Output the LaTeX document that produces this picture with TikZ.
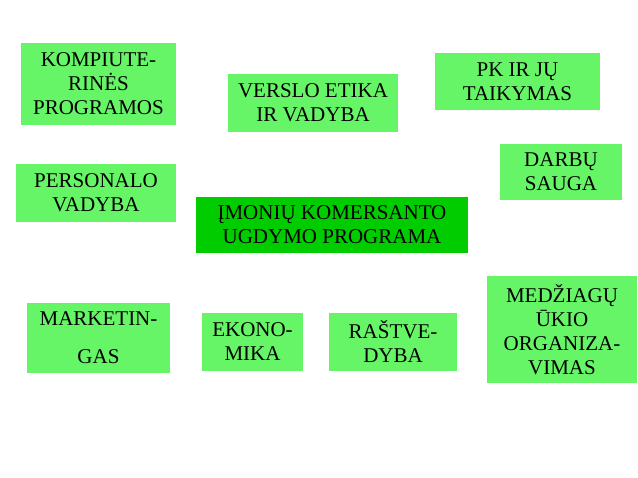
\documentclass[tikz,border=0pt]{standalone}
\usepackage{fontspec}
\setmainfont{Liberation Serif}
\usepackage{tikz}
\definecolor{lightgreen}{RGB}{102,245,102}
\definecolor{deepgreen}{RGB}{0,204,0}

\begin{document}
\begin{tikzpicture}[x=1pt,y=-1pt,
    topic/.style={fill=lightgreen,inner sep=0pt,align=center,
      font=\fontsize{21}{24}\selectfont},
    core/.style={topic,fill=deepgreen}]
    \useasboundingbox[fill=white](0,0)rectangle(638,478);
    \node[topic,minimum width=155,minimum height=82](kompiuterines)at(98.5,84){KOMPIUTE-\\RINĖS\\PROGRAMOS};
    \node[topic,minimum width=170,minimum height=58](etika)at(313,103){VERSLO ETIKA\\IR VADYBA};
    \node[topic,minimum width=165,minimum height=57](pk)at(517.5,81.5){PK IR JŲ\\TAIKYMAS};
    \node[topic,minimum width=122,minimum height=56](darbu)at(561,172){DARBŲ\\SAUGA};
    \node[topic,minimum width=160,minimum height=58](personalo)at(96,193){PERSONALO\\VADYBA};
    \node[core,minimum width=272,minimum height=56](programa)at(332,225){ĮMONIŲ KOMERSANTO\\UGDYMO PROGRAMA};
    \node[topic,minimum width=143,minimum height=70](marketingas)at(98.5,338){MARKETIN-\\[14pt]GAS};
    \node[topic,minimum width=101,minimum height=58](ekonomika)at(252.5,342){EKONO-\\MIKA};
    \node[topic,minimum width=128,minimum height=58](rastvedyba)at(393,342){RAŠTVE-\\DYBA};
    \node[topic,minimum width=150,minimum height=107](medziagu)at(562,329.5){MEDŽIAGŲ\\ŪKIO\\ORGANIZA-\\VIMAS};
  \end{tikzpicture}
\end{document}
